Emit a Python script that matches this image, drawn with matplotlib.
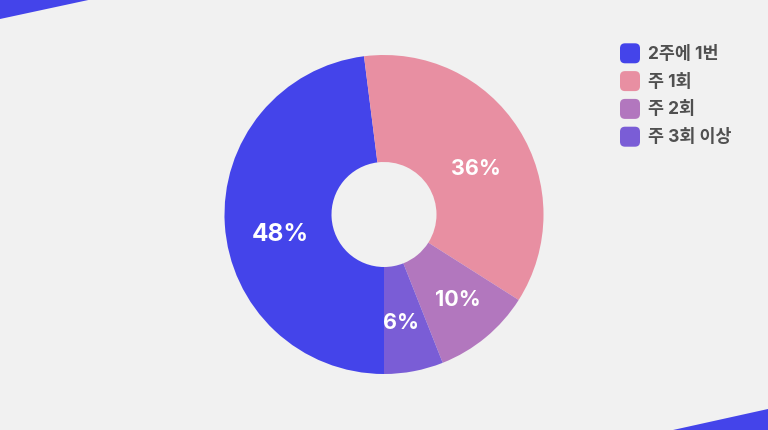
import matplotlib.pyplot as plt
from matplotlib.patches import FancyBboxPatch, Polygon

plt.rcParams['font.family'] = ['Inter', 'Noto Sans CJK KR', 'DejaVu Sans']

# Data
labels = ['2주에 1번', '주 1회', '주 2회', '주 3회 이상']
shares = [48, 36, 10, 6]
colors = ['#4444EA', '#E88FA2', '#B277BE', '#7A5DD6']

# label styling / nudges (pixels)
pct_sizes = [17.5, 15.5, 15.5, 15.5]
pct_nudge = [(5, -12), (0, -12), (5, -1), (-3, -1)]

W, H = 768, 431
fig = plt.figure(figsize=(W / 100, H / 100), dpi=100)
fig.patch.set_facecolor('#F1F1F1')
ax = fig.add_axes([0, 0, 1, 1])
ax.set_facecolor('#F1F1F1')

wedges, _, autotexts = ax.pie(
    shares, colors=colors, startangle=270, counterclock=False,
    center=(384, 215.5), radius=159.5,
    autopct=lambda p: f'{p:.0f}%', pctdistance=0.68,
    wedgeprops=dict(width=159.5 - 52.5, linewidth=0),
)
for t, s, (dx, dy) in zip(autotexts, pct_sizes, pct_nudge):
    x, y = t.get_position()
    t.set_position((x + dx, y + dy))
    t.set_color('white')
    t.set_fontsize(s)
    t.set_fontweight('bold')

# corner decorations
ax.add_patch(Polygon([(0, H), (93, H), (0, H - 20)], closed=True,
                     facecolor='#4444EA', edgecolor='none'))
ax.add_patch(Polygon([(673, 0), (W, 0), (W, 21)], closed=True,
                     facecolor='#4444EA', edgecolor='none'))

# legend
row_y = H - 54.3
for lab, col in zip(labels, colors):
    ax.add_patch(FancyBboxPatch((620, row_y - 10), 20, 20,
                                boxstyle='round,pad=0,rounding_size=5',
                                facecolor=col, edgecolor='none'))
    ax.text(648, row_y, lab, fontsize=12.5, color='#505050',
            fontweight='bold', va='center', ha='left')
    row_y -= 27.8

ax.set_xlim(0, W)
ax.set_ylim(0, H)
ax.set_aspect('auto')
ax.axis('off')

fig.savefig('out.png', dpi=100, facecolor=fig.get_facecolor())
